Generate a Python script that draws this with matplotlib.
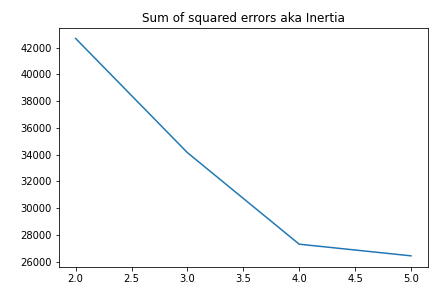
import matplotlib
matplotlib.use("Agg")
import matplotlib.pyplot as plt

# number of clusters vs inertia
k_values = [2, 3, 4, 5]
sse = [42680, 34150, 27310, 26440]

fig = plt.figure(figsize=(436 / 72, 300 / 72), dpi=72)
ax = fig.add_axes([0.135, 0.111, 0.846, 0.797])

ax.plot(k_values, sse)
ax.set_title("Sum of squared errors aka Inertia")

fig.savefig("out.png", dpi=72)
plt.close(fig)
